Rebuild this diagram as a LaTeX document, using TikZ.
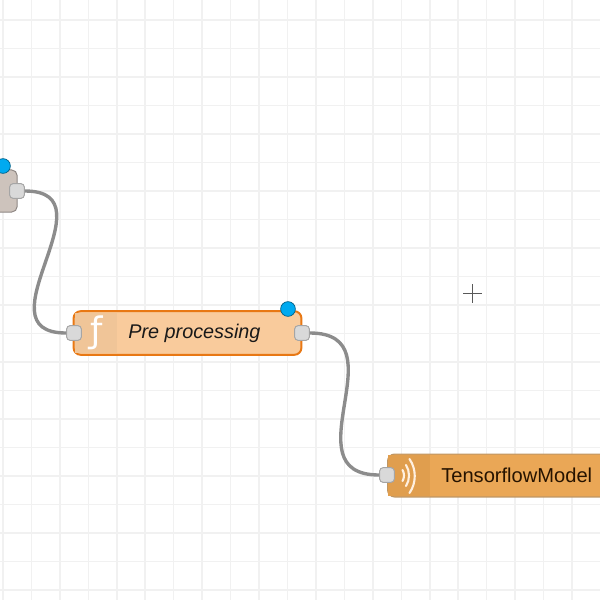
\documentclass[tikz,border=0pt]{standalone}
\usepackage{fontspec}
\setmainfont{Liberation Sans}
\newfontfamily\iconfont{DejaVu Sans}
\definecolor{gridgray}{RGB}{241, 241, 241}
\definecolor{wiregray}{RGB}{140, 140, 140}
\definecolor{portfill}{RGB}{217, 217, 217}
\definecolor{portline}{RGB}{165, 165, 165}
\definecolor{dotblue}{RGB}{0, 170, 240}
\definecolor{funcfill}{RGB}{249, 203, 156}
\definecolor{funcicon}{RGB}{240, 197, 152}
\definecolor{funcline}{RGB}{232, 120, 20}
\definecolor{modelfill}{RGB}{234, 167, 86}
\definecolor{modelicon}{RGB}{224, 158, 78}
\definecolor{modelline}{RGB}{190, 150, 100}
\definecolor{inputfill}{RGB}{205, 195, 188}
\usetikzlibrary{positioning}
\tikzset{
  port/.style={draw=portline, fill=portfill, rounded corners=2.5pt, line width=0.7pt, minimum size=10.5pt, inner sep=0pt},
  changedot/.style={circle, draw=black!45!dotblue, fill=dotblue, line width=0.5pt, minimum size=10.5pt, inner sep=0pt},
  wire/.style={draw=wiregray, line width=2.4pt},
  wave/.style={draw=white!88!orange, line width=1.5pt, line cap=round}
}
\begin{document}
\begin{tikzpicture}[x=0.025cm, y=-0.025cm]
  \useasboundingbox (0, 0) rectangle (600, 600);
  \clip (0, 0) rectangle (600, 600);

  % Grid
  \foreach \i in {0,...,21} {
    \draw[gridgray, line width=1.1pt] ({3+28.45*\i}, 0) -- ({3+28.45*\i}, 600);
    \draw[gridgray, line width=1.1pt] (0, {20+28.5*\i}) -- (600, {20+28.5*\i});
  }

  % Input node, cut off at the left edge
  \node[draw=black!30!inputfill, fill=inputfill, rounded corners=4pt, line width=0.7pt, minimum width=60pt, minimum height=30pt, inner sep=0pt] (inputnode) at (-25, 191) {};
  \node[port] (inputout) at (17, 191) {};
  \node[changedot] (inputdot) at (3, 166) {};

  % Pre processing
  \node[draw=funcline, fill=funcfill, rounded corners=5pt, line width=1.4pt, minimum width=162pt, minimum height=31pt, inner sep=0pt] (prenode) at (187.5, 333) {};
  \fill[funcicon] (75, 313) -- (117, 313) -- (117, 353) -- (75, 353) -- cycle;
  \node[font=\itshape, text=black!90, anchor=west, inner sep=0pt] (prelabel) at (128, 333) {\fontsize{14.1}{16}\selectfont Pre processing};
  \node[text=white, inner sep=0pt] (preicon) at (96.5, 333) {\fontsize{25}{28}\selectfont\iconfont ƒ};
  \node[port] (prein) at (74, 333) {};
  \node[port] (preout) at (302, 333) {};
  \node[changedot] (predot) at (288, 309) {};

  % TensorflowModel, runs past the right edge
  \node[draw=modelline, fill=modelfill, rounded corners=5pt, line width=0.8pt, minimum width=190pt, minimum height=30.5pt, inner sep=0pt, anchor=west] (modelnode) at (387, 475.5) {};
  \fill[modelicon] (388, 455) -- (430, 455) -- (430, 496) -- (388, 496) -- cycle;
  \node[text=black!85!orange, anchor=west, inner sep=0pt] (modellabel) at (441, 475) {\fontsize{14.3}{16}\selectfont TensorflowModel};
  \node[port] (modelin) at (387, 475) {};
  \draw[wave] (402.5, 470) .. controls (404.5, 473) and (404.5, 478) .. (402.5, 481);
  \draw[wave] (406, 465) .. controls (410, 471) and (410, 480) .. (406, 486);
  \draw[wave] (409.5, 459) .. controls (416.5, 469) and (416.5, 483) .. (409.5, 493);

  % Wires
  \draw[wire] (inputout.east) .. controls +(90, 0) and +(-90, 0) .. (prein.west);
  \draw[wire] (preout.east) .. controls +(92, 0) and +(-92, 0) .. (modelin.west);

  % Pointer
  \draw[black!65, line width=0.8pt] (463, 293.5) -- (482, 293.5);
  \draw[black!65, line width=0.8pt] (472.5, 284) -- (472.5, 303);
\end{tikzpicture}
\end{document}
